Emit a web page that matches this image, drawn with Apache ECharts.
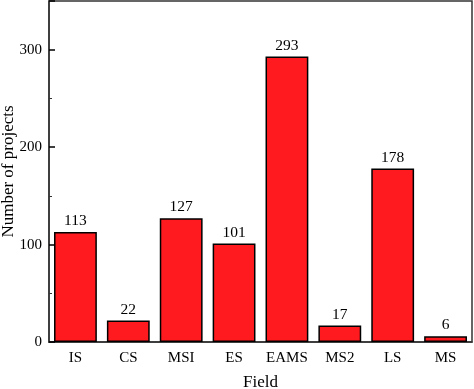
<!DOCTYPE html>
<html><head><meta charset="utf-8">
<script src="https://cdn.jsdelivr.net/npm/echarts@6/dist/echarts.min.js"></script>
<style>html,body{margin:0;padding:0;background:#fff}#c{width:474px;height:389px}</style>
</head><body><div id="c"></div>
<script>
const categories = ['IS','CS','MSI','ES','EAMS','MS2','LS','MS'];
const values = [113,22,127,101,293,17,178,6];
const yTicks = [0,100,200,300];
const font = '"Liberation Serif","Times New Roman",serif';
const chart = echarts.init(document.getElementById('c'));
chart.setOption({
  animation:false,
  grid:{left:49,right:2,top:1,bottom:47,containLabel:false,outerBoundsMode:'none',show:true,borderColor:'#333',borderWidth:1.5},
  xAxis:{type:'category',data:categories,name:'Field',nameLocation:'middle',nameGap:32,nameMoveOverlap:false,
    nameTextStyle:{fontFamily:font,fontSize:17,color:'#000'},
    axisLine:{lineStyle:{color:'#333',width:1.5}},
    axisTick:{show:true,inside:true,alignWithLabel:true,interval:0,length:5,lineStyle:{color:'#333'}},
    axisLabel:{interval:0,hideOverlap:false,fontFamily:font,fontSize:15,color:'#000',margin:9}},
  yAxis:{type:'value',min:0,max:350,interval:100,name:'Number of projects',nameLocation:'middle',nameGap:32,nameMoveOverlap:false,
    nameTextStyle:{fontFamily:font,fontSize:17,color:'#000'},
    axisLine:{show:true,lineStyle:{color:'#333',width:1.5}},
    axisTick:{show:true,inside:true,length:6,lineStyle:{color:'#000',width:1.5}},
    minorTick:{show:true,splitNumber:2,length:3,lineStyle:{color:'#333'}},
    splitLine:{show:false},
    axisLabel:{fontFamily:font,fontSize:15,color:'#000',margin:7,
      formatter:v=>yTicks.includes(v)?String(v):''}},
  series:[{type:'bar',data:values,barWidth:'81%',
    itemStyle:{color:'#fe1a1f',borderColor:'#000',borderWidth:1.5},
    label:{show:true,position:'top',distance:3,fontFamily:font,fontSize:15.5,color:'#000'}}]
});
</script></body></html>
